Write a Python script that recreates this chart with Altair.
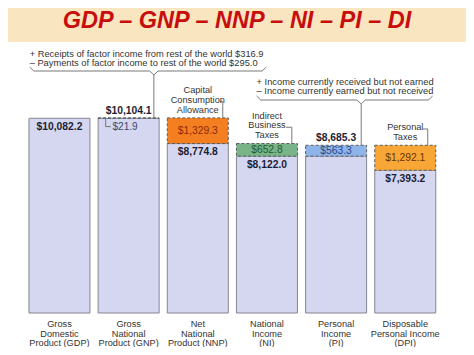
import altair as alt
import pandas as pd

# ---------------- data ----------------
title_text = "GDP – GNP – NNP – NI – PI – DI"
categories = [
    "Gross\nDomestic\nProduct (GDP)",
    "Gross\nNational\nProduct (GNP)",
    "Net\nNational\nProduct (NNP)",
    "National\nIncome\n(NI)",
    "Personal\nIncome\n(PI)",
    "Disposable\nPersonal Income\n(DPI)",
]
base_values = [10082.2, 10082.2, 8774.8, 8122.0, 8122.0, 7393.2]
top_values = [0.0, 21.9, 1329.3, 652.8, 563.3, 1292.1]
segments = ["GDP", "Net factor income", "Capital consumption allowance",
            "Indirect business taxes", "Net transfers", "Personal taxes"]
show_base_label = [True, False, True, True, False, True]
show_top_label = [False, False, True, True, True, True]
show_total_label = [False, True, False, False, True, False]

factor_notes = "+ Receipts of factor income from rest of the world $316.9\n– Payments of factor income to rest of the world $295.0"
transfer_notes = "+ Income currently received but not earned\n– Income currently earned but not received"
callouts = ["Capital\nConsumption\nAllowance", "Indirect\nBusiness\nTaxes", "Personal\nTaxes"]
callout_bars = [2, 3, 5]

# ---------------- styles ----------------
FONT = "Liberation Sans"
seg_fill = ["#9db9e6", "#f47f21", "#79b488", "#8fb4e9", "#f8a737"]
seg_text = ["#3a4a70", "#8c2a08", "#1f5a30", "#26488a", "#6b3500"]
LINE = "#6a6a6a"
DARK = "#1d1d35"
PX = 51.78          # value units per pixel on the y scale
CALL_LH = 9.8

def money(v):
    return f"${v:,.1f}"

df = pd.DataFrame({"idx": list(range(6)), "cat": categories,
                   "base": base_values, "top": top_values, "seg": segments})
df["total"] = df["base"] + df["top"]
df["mid"] = df["base"] + df["top"] / 2
df["zero"] = 0.0
df["base_label"] = [money(v) if s else "" for v, s in zip(base_values, show_base_label)]
df["top_label"] = [money(v) if s else "" for v, s in zip(top_values, show_top_label)]
df["total_label"] = [money(v) if s else "" for v, s in zip(df["total"], show_total_label)]
df["tcolor"] = ["#000"] + seg_text

df_top = df[df["top"] > 0]

xs = alt.Scale(domain=[-0.672, 5.806], nice=False, zero=False)
ys = alt.Scale(domain=[-1761, 15795], nice=False, zero=False)

def X(f):
    return alt.X(f, type="quantitative", scale=xs, axis=None)

def Y(f):
    return alt.Y(f, type="quantitative", scale=ys, axis=None)

one = pd.DataFrame({"a": [0]})

band = alt.Chart(one).mark_rect(color="#f9e5bf").encode(
    x=alt.value(0), x2=alt.value("width"), y=alt.value(0), y2=alt.value(34))

title = alt.Chart(one).mark_text(
    text=title_text, font=FONT, fontSize=23.5, fontWeight="bold", fontStyle="italic",
    color="#c80d0d", align="center", baseline="middle"
).encode(x=alt.value(229), y=alt.value(13))

base_bars = alt.Chart(df).mark_bar(size=61, color="#d4d7ef", stroke="#858591", strokeWidth=1).encode(
    x=X("idx"), y=Y("base"), y2="zero")

top_bars = alt.Chart(df_top).mark_bar(size=61, stroke="#5c5c5c", strokeWidth=1, strokeDash=[3, 2]).encode(
    x=X("idx"), y=Y("base"), y2="total",
    fill=alt.Fill("seg:N", scale=alt.Scale(domain=segments[1:], range=seg_fill), legend=None))

base_text = alt.Chart(df).mark_text(font=FONT, fontSize=10.3, fontWeight="bold", color=DARK,
                                     baseline="middle", dy=8.5).encode(
    x=X("idx"), y=Y("base"), text="base_label")

top_text = alt.Chart(df).mark_text(font=FONT, fontSize=10.3, baseline="middle", dy=0.5).encode(
    x=X("idx"), y=Y("mid"), text="top_label", color=alt.Color("tcolor:N", scale=None))

total_text = alt.Chart(df).mark_text(font=FONT, fontSize=10.3, fontWeight="bold", color=DARK,
                                      baseline="bottom", dy=-2).encode(
    x=X("idx"), y=Y("total"), text="total_label")

cat_text = alt.Chart(df).mark_text(font=FONT, fontSize=9.2, color="#333", baseline="top",
                                    lineBreak="\n", lineHeight=9.7, dy=7).encode(
    x=X("idx"), y=Y("zero"), text="cat")

call_tops = []
for t, i in zip(callouts, callout_bars):
    n = t.count("\n") + 1
    call_tops.append(df.loc[i, "total"] + (n * CALL_LH + 2.5) * PX)
df_call = pd.DataFrame({"idx": callout_bars, "text": callouts, "y": call_tops})
call_text = alt.Chart(df_call).mark_text(font=FONT, fontSize=9.2, color="#333", baseline="top",
                                         lineBreak="\n", lineHeight=CALL_LH).encode(
    x=X("idx"), y=Y("y"), text="text")

# annotation geometry (index units on x, value units on y)
gnp_top = df.loc[1, "total"]
pi_top = df.loc[4, "total"]
df_notes = pd.DataFrame({
    "x": [-0.431, 2.85],
    "y": [13640, 12180],
    "text": [factor_notes, transfer_notes],
})
notes_text = alt.Chart(df_notes).mark_text(font=FONT, fontSize=9.3, color="#333", align="left",
                                           baseline="top", lineBreak="\n", lineHeight=9.6).encode(
    x=X("x"), y=Y("y"), text="text")

def brace(g, x0, x1, tip, ytop, ymid, ybot, a=0.06):
    pts = [(x0, ytop), (x0 + a, ymid), (tip - a, ymid), (tip, ybot),
           (tip + a, ymid), (x1 - a, ymid), (x1, ytop)]
    return [{"g": g, "o": i, "x": p[0], "y": p[1]} for i, p in enumerate(pts)]

def path(g, pts):
    return [{"g": g, "o": i, "x": p[0], "y": p[1]} for i, p in enumerate(pts)]

rows = []
rows += brace("b1", -0.431, 2.99, 1.365, 12739, 12532, 12325)
rows += path("v1", [(1.365, 12325), (1.365, gnp_top)])
rows += brace("b2", 2.85, 5.396, 4.363, 11237, 11030, 10823)
rows += path("v2", [(4.363, 10823), (4.363, pi_top)])
off = 16.3 * PX
for g, i, xa, xb in [("c1", 2, 0.318, 0.361), ("c2", 3, 0.276, 0.36), ("c3", 5, 0.255, 0.325)]:
    t = df.loc[i, "total"]
    rows += path(g, [(i + xa, t + off), (i + xb, t + off), (i + xb, t)])
gb = df.loc[1, "base"]
rows += path("l21", [(1 - 0.332, gb), (1 - 0.332, gb - 430), (1 - 0.257, gb - 430)])
df_lines = pd.DataFrame(rows)

lines = alt.Chart(df_lines).mark_line(color=LINE, strokeWidth=0.9).encode(
    x=X("x"), y=Y("y"), detail="g:N", order="o:Q")

df_small = pd.DataFrame({"x": [1 - 0.233], "y": [gb - 440], "text": [money(top_values[1])]})
small_text = alt.Chart(df_small).mark_text(font=FONT, fontSize=10, color="#3a4a70", align="left",
                                           baseline="middle").encode(
    x=X("x"), y=Y("y"), text="text")

chart = alt.layer(
    band, title, base_bars, top_bars, lines, base_text, top_text, total_text,
    cat_text, call_text, notes_text, small_text
).properties(
    width=458, height=339, padding=0,
    autosize=alt.AutoSizeParams(type="none"),
).configure_view(stroke=None)

chart.save("out.html", embed_options={"renderer": "svg", "actions": False})
